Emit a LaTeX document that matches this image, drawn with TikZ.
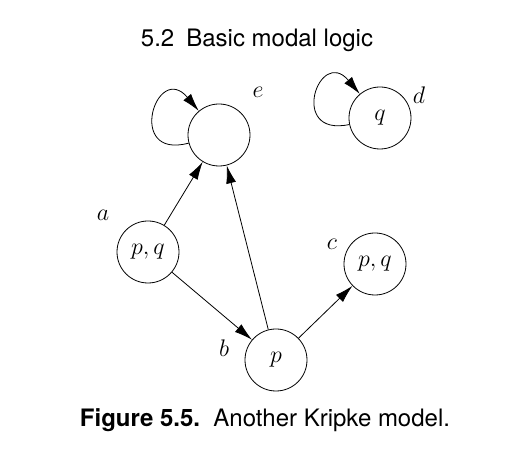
\documentclass[tikz,border=0pt]{standalone}
\usepackage{amsmath}
\usepackage{fontspec}
\setsansfont{TeX Gyre Heros}
\usetikzlibrary{arrows.meta}
\usetikzlibrary{positioning}

\tikzset{
    world/.style={circle,draw,thin,minimum size=31pt,inner sep=0pt,font=\fontsize{12}{14}\selectfont},
    wname/.style={inner sep=0pt,font=\fontsize{12}{14}\selectfont},
    caption/.style={inner sep=0pt,font=\sffamily\fontsize{12}{14}\selectfont}
}

\begin{document}
\begin{tikzpicture}[x=0.5pt,y=-0.5pt,>={Latex[length=9pt,width=5pt]}]
    \useasboundingbox (0,0) rectangle (510,454);
    \node [caption] (title) at (257,40) {5.2\enspace Basic modal logic};
    \node [world] (e) at (219,135) {};
    \node [world] (d) at (380,118) {$q$};
    \node [world] (a) at (148,252) {$p,q$};
    \node [world] (c) at (375,264) {$p,q$};
    \node [world] (b) at (276,360) {$p$};
    \node [wname] (ne) at (258,92) {$e$};
    \node [wname] (nd) at (419,95) {$d$};
    \node [wname] (na) at (103,215) {$a$};
    \node [wname] (nc) at (332,244) {$c$};
    \node [wname] (nb) at (224,348) {$b$};
    \path[->,thin]
        (e) edge [out=195,in=130,looseness=5] (e)
        (d) edge [out=192,in=130,looseness=5] (d)
        (a) edge (e)
        (b) edge (e)
        (a) edge (b)
        (b) edge (c);
    \node [caption] (cap) at (265,420) {\textbf{Figure 5.5.}\ \ Another Kripke model.};
\end{tikzpicture}
\end{document}
